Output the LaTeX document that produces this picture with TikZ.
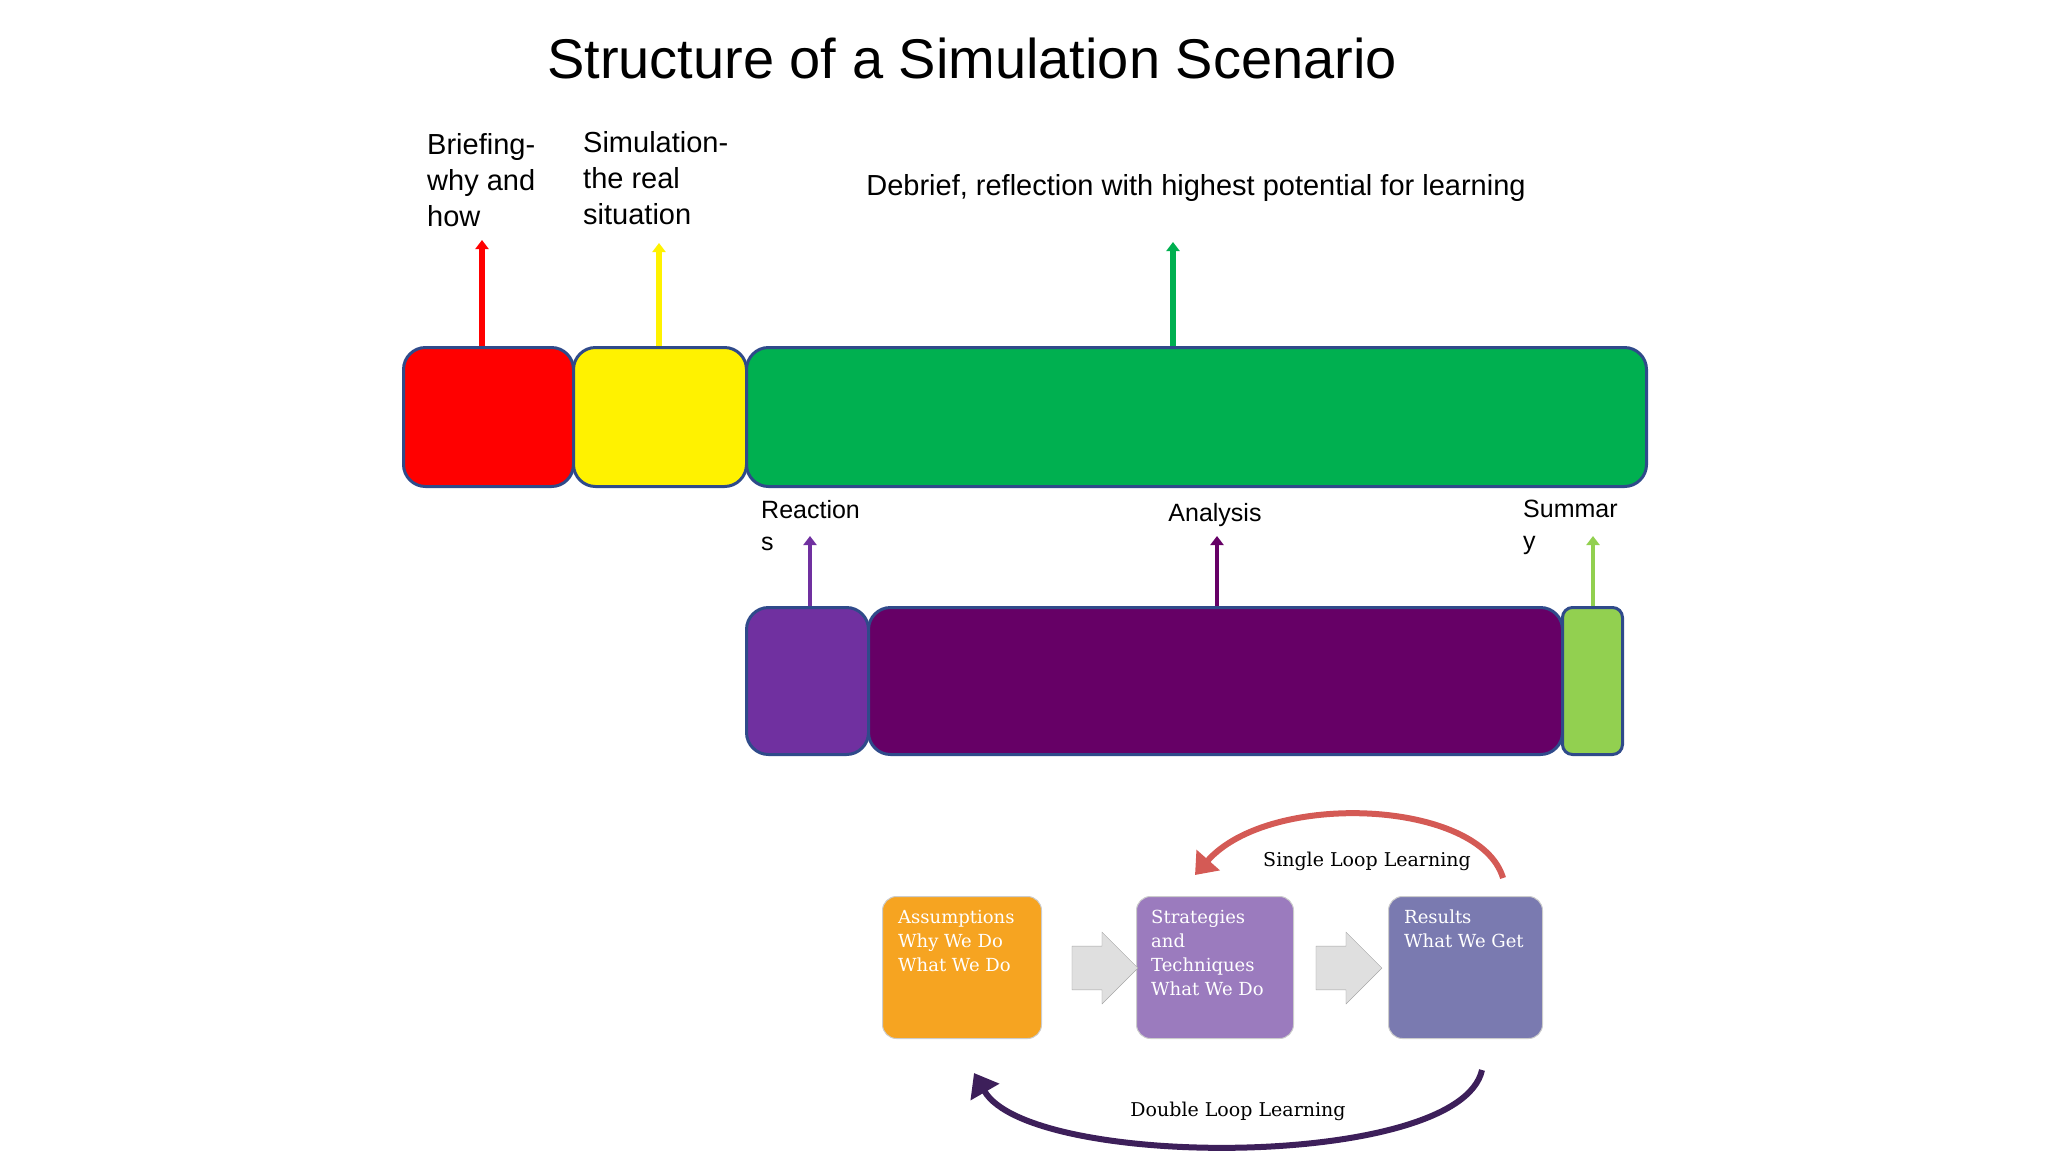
\documentclass[tikz,border=0pt]{standalone}
\usepackage{fontspec}
\setmainfont{Liberation Sans}
\newfontfamily\slab{DejaVu Serif}
\usetikzlibrary{shapes.arrows,arrows.meta}
\definecolor{edge}{HTML}{2F4A8A}
\definecolor{cgreen}{HTML}{00B050}
\definecolor{cpurple}{HTML}{7030A0}
\definecolor{cdpurple}{HTML}{660066}
\definecolor{clgreen}{HTML}{92D050}
\definecolor{corange}{HTML}{F6A421}
\definecolor{cstrat}{HTML}{9B7BBE}
\definecolor{cres}{HTML}{7A7AB0}
\definecolor{csingle}{HTML}{D45A55}
\definecolor{cdouble}{HTML}{3D1F5A}
\begin{document}
\begin{tikzpicture}[x=1pt,y=-1pt,
  bar/.style={draw=edge,line width=3pt,rounded corners=22pt,anchor=north west,inner sep=0pt},
  up/.style={line width=6pt,-{Triangle[length=9pt,width=13pt]}},
  lbl/.style={font=\fontsize{29}{36}\selectfont,align=left,anchor=north west,inner sep=0pt},
  slbl/.style={font=\fontsize{25}{32}\selectfont,align=left,anchor=north west,inner sep=0pt},
  card/.style={rounded corners=14pt,anchor=north west,inner sep=0pt,draw=white!80!black,line width=1pt},
  ctext/.style={font=\slab\fontsize{18}{24}\selectfont,text=white,align=left,anchor=north west,inner sep=0pt},
  garrow/.style={single arrow,draw=gray!70,fill=gray!25,minimum width=72pt,minimum height=66pt,single arrow head extend=4pt,single arrow tip angle=90,inner sep=6pt}]
\useasboundingbox (0,0) rectangle (2048,1152);
\node[font=\fontsize{56}{64}\selectfont] (title) at (972,58) {Structure of a Simulation Scenario};
% top bars
\node[bar,fill=red,minimum width=170pt,minimum height=139pt] (r) at (402,346) {};
\node[bar,fill=yellow,minimum width=173pt,minimum height=139pt] (y) at (572,346) {};
\node[bar,fill=cgreen,minimum width=900pt,minimum height=139pt] (g) at (745,346) {};
\coordinate (rt) at (482,240); \coordinate (yt) at (659,243); \coordinate (gt) at (1173,242);
\draw[up,red] (482,346) -- (rt);
\draw[up,yellow] (659,346) -- (yt);
\draw[up,cgreen] (1173,346) -- (gt);
\node[lbl] (lb) at (427,133) {Briefing-\\why and\\how};
\node[lbl] (ls) at (583,131) {Simulation-\\the real\\situation};
\node[font=\fontsize{29}{36}\selectfont] (ld) at (1196,188) {Debrief, reflection with highest potential for learning};
% second row
\node[bar,fill=cpurple,minimum width=122pt,minimum height=147pt] (p) at (745,606) {};
\node[bar,fill=cdpurple,minimum width=694pt,minimum height=147pt] (dp) at (867,606) {};
\node[bar,fill=clgreen,minimum width=60pt,minimum height=147pt,rounded corners=10pt] (lg) at (1561,606) {};
\coordinate (pt) at (810,536); \coordinate (dpt) at (1217,536); \coordinate (lgt) at (1593,536);
\draw[up,cpurple,line width=4pt] (810,606) -- (pt);
\draw[up,cdpurple,line width=4pt] (1217,606) -- (dpt);
\draw[up,clgreen,line width=4pt] (1593,606) -- (lgt);
\node[slbl] (lr) at (761,500) {Reaction\\s};
\node[font=\fontsize{25}{32}\selectfont] (la) at (1215,515) {Analysis};
\node[slbl] (lsu) at (1523,500) {Summar\\y};
% bottom diagram
\node[card,fill=corange,minimum width=159pt,minimum height=142pt] (c1) at (882,896) {};
\node[card,fill=cstrat,minimum width=157pt,minimum height=142pt] (c2) at (1136,896) {};
\node[card,fill=cres,minimum width=154pt,minimum height=142pt] (c3) at (1388,896) {};
\node[ctext] (t1) at (898,910) {Assumptions\\Why We Do\\What We Do};
\node[ctext] (t2) at (1151,910) {Strategies\\and\\Techniques\\What We Do};
\node[ctext] (t3) at (1404,910) {Results\\What We Get};
\node[garrow] (a1) at (1094,968) {};
\node[garrow] (a2) at (1338,968) {};
\coordinate (s0) at (1503,878); \coordinate (s1) at (1195,875);
\draw[csingle,line width=6pt,-{Triangle[length=20pt,width=30pt]}] (s0) .. controls (1480,800) and (1270,790) .. (s1);
\node[font=\slab\fontsize{19}{24}\selectfont] (sl) at (1367,861) {Single Loop Learning};
\coordinate (d0) at (1482,1070); \coordinate (d1) at (974,1073);
\draw[cdouble,line width=6pt,-{Triangle[length=22pt,width=32pt]}] (d0) .. controls (1460,1170) and (1030,1170) .. (d1);
\node[font=\slab\fontsize{19}{24}\selectfont] (dl) at (1238,1111) {Double Loop Learning};
\end{tikzpicture}
\end{document}
